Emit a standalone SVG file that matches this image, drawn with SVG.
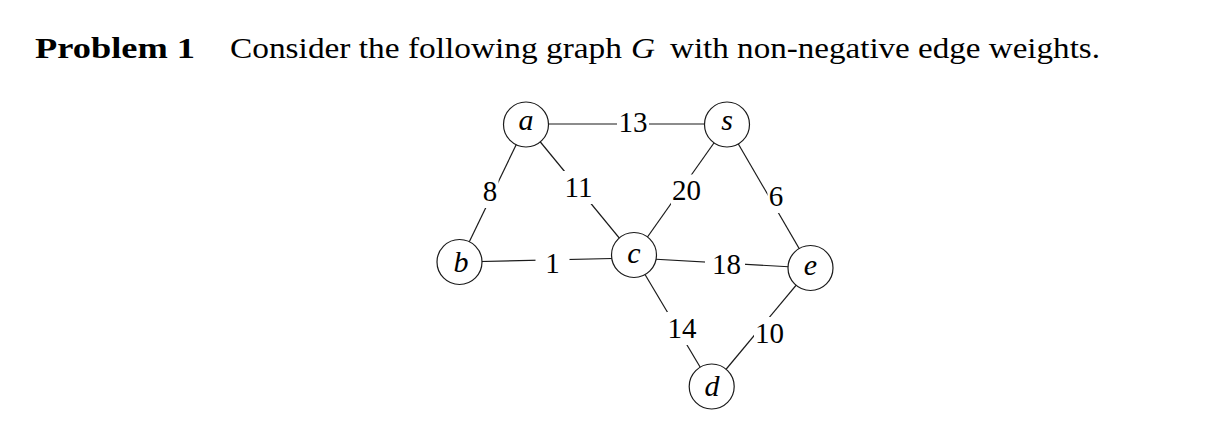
<svg xmlns="http://www.w3.org/2000/svg" width="1208" height="434" viewBox="0 0 1208 434">
<style>
.edge{stroke:#1a1a1a;stroke-width:1.2;fill:none}
.lbg{fill:#fff;stroke:none}
.lbl{font-size:29px;text-anchor:middle;fill:#000}
.node circle{fill:#fff;stroke:#1a1a1a;stroke-width:1.2}
.node text{font-style:italic;font-size:30px;text-anchor:middle;fill:#000}
</style>
<rect width="1208" height="434" fill="#fff"/>
<g font-family="Liberation Serif, Times New Roman, serif">
<g id="title">
<text x="35" y="58" font-size="30" font-weight="bold" textLength="160" lengthAdjust="spacingAndGlyphs">Problem 1</text>
<text x="230" y="58" font-size="30" textLength="392" lengthAdjust="spacingAndGlyphs">Consider the following graph</text>
<text x="631" y="58" font-size="30" font-style="italic" textLength="24" lengthAdjust="spacingAndGlyphs">G</text>
<text x="670" y="58" font-size="30" textLength="430" lengthAdjust="spacingAndGlyphs">with non-negative edge weights.</text>
</g>
<g id="connectors">
<line class="edge" x1="526" y1="124" x2="727" y2="124"/>
<line class="edge" x1="526" y1="124.5" x2="459.5" y2="262"/>
<line class="edge" x1="526" y1="124.5" x2="634" y2="256"/>
<line class="edge" x1="727" y1="124.5" x2="634" y2="256"/>
<line class="edge" x1="727" y1="124.5" x2="810.5" y2="268"/>
<line class="edge" x1="459.5" y1="262" x2="634" y2="258"/>
<line class="edge" x1="634" y1="258" x2="810.5" y2="268"/>
<line class="edge" x1="634" y1="256" x2="711.7" y2="386.5"/>
<line class="edge" x1="810.5" y1="268" x2="711.7" y2="386.5"/>
<rect class="lbg" x="617" y="106.5" width="32" height="33"/>
<rect class="lbg" x="481.5" y="175" width="17" height="33"/>
<rect class="lbg" x="563" y="171" width="31" height="33"/>
<rect class="lbg" x="671" y="174.5" width="31" height="33"/>
<rect class="lbg" x="767.5" y="180" width="17" height="33"/>
<rect class="lbg" x="535.5" y="246.5" width="34" height="33"/>
<rect class="lbg" x="705" y="248.5" width="40" height="33"/>
<rect class="lbg" x="666.5" y="312" width="31" height="33"/>
<rect class="lbg" x="754" y="317" width="31" height="33"/>
<text class="lbl" x="633" y="132">13</text>
<text class="lbl" x="490" y="201">8</text>
<text class="lbl" x="578.5" y="197">11</text>
<text class="lbl" x="686.5" y="200">20</text>
<text class="lbl" x="776" y="206">6</text>
<text class="lbl" x="552.5" y="272.5">1</text>
<text class="lbl" x="726.5" y="274">18</text>
<text class="lbl" x="682" y="338">14</text>
<text class="lbl" x="769.5" y="343">10</text>
</g>
<g id="node-a" class="node"><circle cx="526" cy="124.5" r="22.5"/><text x="526" y="129.5">a</text></g>
<g id="node-s" class="node"><circle cx="727" cy="124.5" r="22.5"/><text x="727" y="130">s</text></g>
<g id="node-b" class="node"><circle cx="459.5" cy="262" r="22.5"/><text x="461" y="271.7">b</text></g>
<g id="node-c" class="node"><circle cx="634" cy="255" r="22.5"/><text x="634" y="262.7">c</text></g>
<g id="node-e" class="node"><circle cx="810.5" cy="268" r="22.5"/><text x="810.5" y="275">e</text></g>
<g id="node-d" class="node"><circle cx="711.7" cy="386.5" r="22.5"/><text x="712" y="396">d</text></g>
</g>
</svg>
